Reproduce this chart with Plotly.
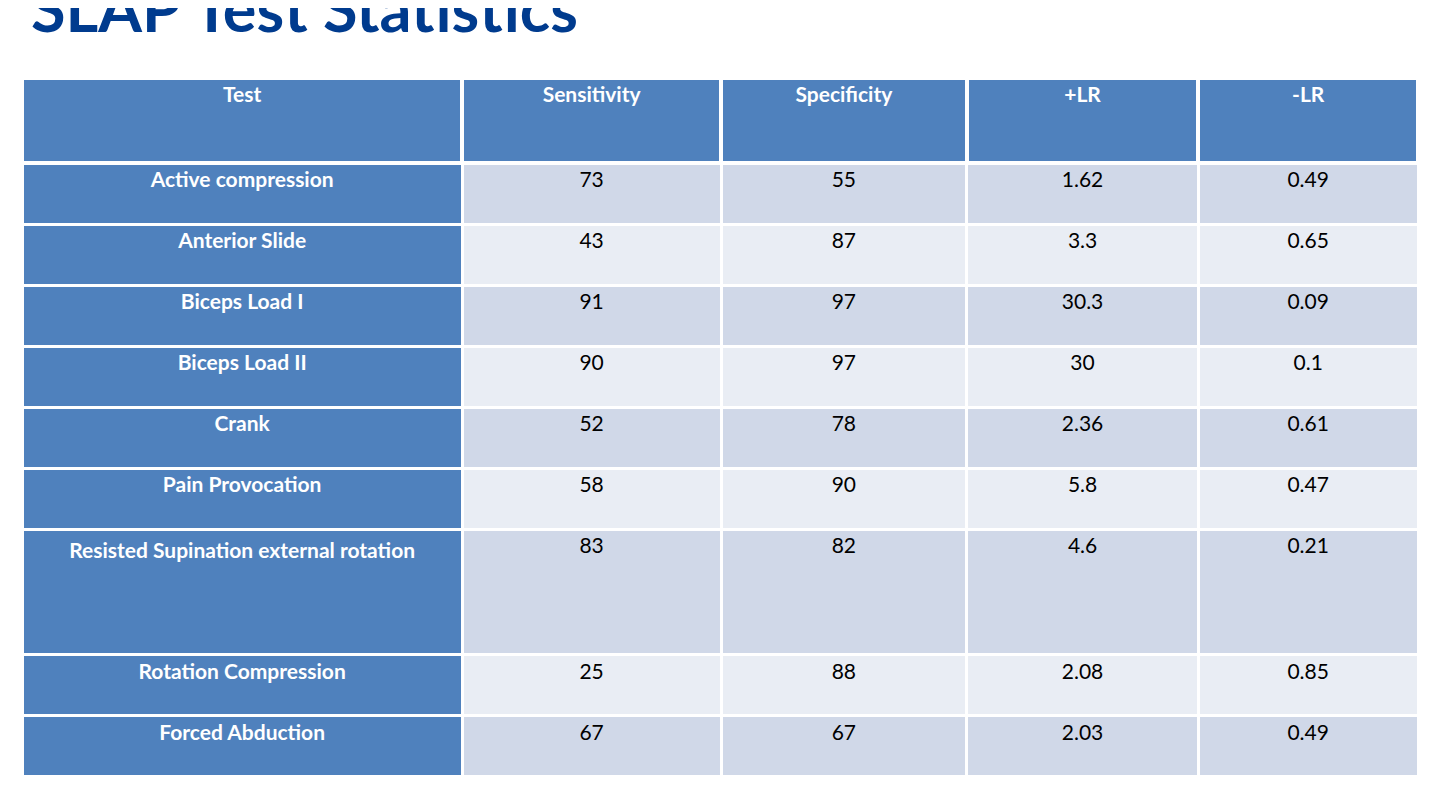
import plotly.graph_objects as go

title_text = "SLAP Test Statistics"
columns = ["Test", "Sensitivity", "Specificity", "+LR", "-LR"]
tests = ["Active compression", "Anterior Slide", "Biceps Load I", "Biceps Load II",
         "Crank", "Pain Provocation", "Resisted Supination external rotation",
         "Rotation Compression", "Forced Abduction"]
sensitivity = ["73", "43", "91", "90", "52", "58", "83", "25", "67"]
specificity = ["55", "87", "97", "97", "78", "90", "82", "88", "67"]
pos_lr = ["1.62", "3.3", "30.3", "30", "2.36", "5.8", "4.6", "2.08", "2.03"]
neg_lr = ["0.49", "0.65", "0.09", "0.1", "0.61", "0.47", "0.21", "0.85", "0.49"]
col_widths = [439, 258, 245, 231, 219]

BLUE = "#4F81BD"
ROW_A = "#D0D8E8"
ROW_B = "#E9EDF4"
FONT = "Lato"

n = len(tests)
row_colors = [ROW_A if i % 2 == 0 else ROW_B for i in range(n)]
tall_idx = tests.index("Resisted Supination external rotation")

test_cells = []
for i, t in enumerate(tests):
    s = t
    if i == tall_idx:
        s += "<br> <br> <br><span style='font-size:34px'> </span>"
    test_cells.append(s)

fig = go.Figure(go.Table(
    columnwidth=col_widths,
    header=dict(
        values=columns,
        fill_color=BLUE,
        line=dict(color="white", width=4),
        align="center",
        height=85,
        font=dict(family=FONT, size=21, color="white", weight="bold"),
    ),
    cells=dict(
        values=[test_cells, sensitivity, specificity, pos_lr, neg_lr],
        fill_color=[[BLUE] * n] + [row_colors] * 4,
        line=dict(color="white", width=3),
        align="center",
        height=61,
        font=dict(family=FONT, size=21,
                  color=["white", "black", "black", "black", "black"],
                  weight=["bold", "normal", "normal", "normal", "normal"]),
    ),
))

fig.add_annotation(
    text="<b>" + title_text + "</b>",
    xref="paper", yref="paper", x=0.005, y=1.044,
    xanchor="left", yanchor="bottom", showarrow=False,
    font=dict(family=FONT, size=63, color="#003B8E"),
)

fig.update_layout(
    width=1433, height=785,
    margin=dict(l=14, r=23, t=70, b=10),
    paper_bgcolor="white", plot_bgcolor="white",
)

fig.write_html("out.html")
